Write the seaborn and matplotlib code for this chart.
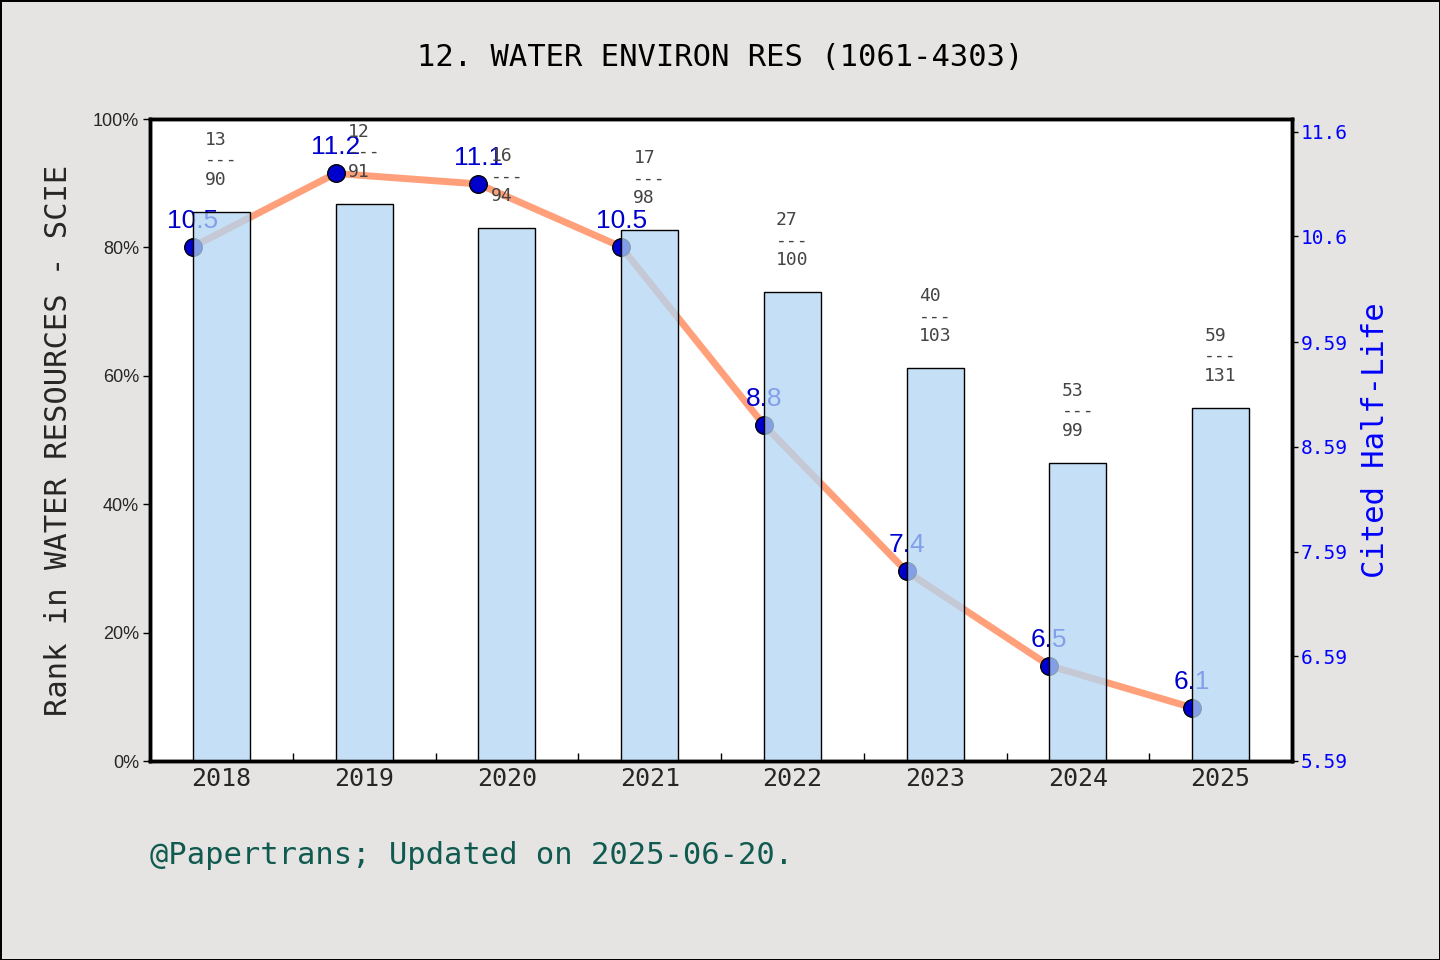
import matplotlib
matplotlib.use("Agg")
import matplotlib.pyplot as plt
import matplotlib.colors as mcolors
import seaborn as sns
import numpy as np
import pandas as pd

YEARS = ["2018", "2019", "2020", "2021", "2022", "2023", "2024", "2025"]
RANK = [13, 12, 16, 17, 27, 40, 53, 59]
TOTAL = [90, 91, 94, 98, 100, 103, 99, 131]
HALF_LIFE = [10.5, 11.2, 11.1, 10.5, 8.8, 7.4, 6.5, 6.1]
LEFT_TICKS = [0, 20, 40, 60, 80, 100]
RIGHT_TICKS = [5.59, 6.59, 7.59, 8.59, 9.59, 10.6, 11.6]

BAR_W = 0.4
BG = "#e5e4e2"
BLUE = "#0000cd"


def build(df):
    df = df.copy()
    df["pct"] = (1 - df["rank"] / df["total"]) * 100
    df["xpos"] = np.arange(len(df)) - BAR_W / 2
    return df


df = build(pd.DataFrame({"year": YEARS, "rank": RANK, "total": TOTAL,
                         "half_life": HALF_LIFE}))

sns.set_theme(style="white")
plt.rcParams["font.family"] = ["DejaVu Sans Mono"]

fig = plt.figure(figsize=(14.4, 9.6), dpi=100, facecolor=BG,
                 edgecolor="black", linewidth=2)
ax = fig.add_axes([150 / 1440, 1 - 761 / 960, 1142 / 1440, 642 / 960])
ax2 = ax.twinx()

# line + points on the twin, bars drawn above them (semi transparent)
sns.lineplot(data=df, x="xpos", y="half_life", ax=ax2, color="#ffa07a",
             linewidth=5, sort=False)
sns.scatterplot(data=df, x="xpos", y="half_life", ax=ax2, color=BLUE,
                s=160, edgecolor="black", linewidth=1, zorder=3)
for x, v in zip(df["xpos"], df["half_life"]):
    ax2.annotate(f"{v}", (x, v), xytext=(0, 26), textcoords="offset pixels",
                 ha="center", va="center", color=BLUE, fontsize=19,
                 family="Liberation Sans")

sns.barplot(data=df, x="year", y="pct", ax=ax, width=BAR_W,
            color="#b2d6f4", saturation=1)
face = mcolors.to_rgba("#b2d6f4", 0.75)
for bar in ax.patches:
    bar.set_facecolor(face)
    bar.set_edgecolor("black")
    bar.set_linewidth(1)

for i, (r, t, p) in enumerate(zip(df["rank"], df["total"], df["pct"])):
    ax.annotate(f"{r}\n---\n{t}", (i, p), xytext=(0, 52),
                textcoords="offset pixels", ha="center", va="center",
                multialignment="left", linespacing=1.15, color="#444444",
                fontsize=13)

ax.set_zorder(ax2.get_zorder() + 1)
ax.patch.set_visible(False)
ax2.patch.set_visible(True)
ax2.patch.set_facecolor("white")

ax.set_xlim(-0.5, len(YEARS) - 0.5)
ax.set_ylim(0, 100)
ax2.set_ylim(5.59, 11.72)

ax.set_yticks(LEFT_TICKS)
ax.set_yticklabels([f"{t}%" for t in LEFT_TICKS], family="Liberation Sans",
                   fontsize=13)
ax.tick_params(axis="y", left=True, direction="out", length=5, width=1,
               color="black", pad=3)
ax.set_xticks(range(len(YEARS)))
ax.set_xticklabels(YEARS, fontsize=18)
ax.set_xticks(np.arange(0.5, len(YEARS) - 1, 1), minor=True)
ax.tick_params(axis="x", which="major", length=0, pad=4)
ax.tick_params(axis="x", which="minor", bottom=True, direction="in",
               length=6, width=1, color="black")

ax2.set_yticks(RIGHT_TICKS)
ax2.set_yticklabels([f"{v:.3g}" for v in RIGHT_TICKS], fontsize=14,
                    color="blue")
ax2.tick_params(axis="y", right=True, direction="out", length=4, width=1,
                color="black", pad=2)

ax.set_xlabel("")
ax.set_ylabel("Rank in WATER RESOURCES - SCIE", fontsize=22, labelpad=14)
ax2.set_ylabel("Cited Half-Life", fontsize=22, color="blue", labelpad=10)

for a in (ax, ax2):
    for s in a.spines.values():
        s.set_color("black")
        s.set_linewidth(2.5)

fig.text(0.5, 1 - 57 / 960, "12. WATER ENVIRON RES (1061-4303)",
         ha="center", va="center", fontsize=22, color="black")
fig.text(150 / 1440, 1 - 855 / 960, "@Papertrans; Updated on 2025-06-20.",
         ha="left", va="center", fontsize=22, color="#105a50")

fig.savefig("out.png", dpi=100, facecolor=BG, edgecolor="black")
